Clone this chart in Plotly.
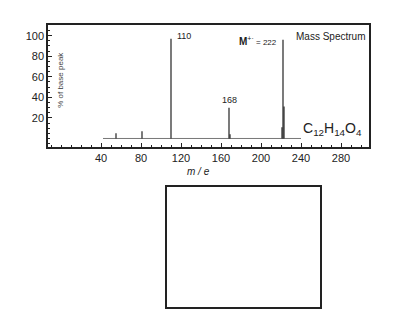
import plotly.graph_objects as go

# Data: m/e peaks and relative intensities (% of base peak)
mz = [55, 81, 110, 168, 169, 221, 222, 223]
intensity = [5, 7, 97, 30, 4, 11, 96, 31]
baseline_range = [42, 240]
x_ticks = [40, 80, 120, 160, 200, 240, 280]
y_ticks = [20, 40, 60, 80, 100]

FONT = "Liberation Sans, Arial, sans-serif"

xs, ys = [], []
for m, v in zip(mz, intensity):
    xs += [m, m, None]
    ys += [0, v, None]

fig = go.Figure()
fig.add_trace(go.Scatter(x=baseline_range, y=[0, 0], mode="lines",
                         line=dict(color="#777777", width=1), hoverinfo="skip",
                         showlegend=False))
fig.add_trace(go.Scatter(x=xs, y=ys, mode="lines",
                         line=dict(color="#222222", width=1.2),
                         showlegend=False))
# empty second panel
fig.add_trace(go.Scatter(x=[None], y=[None], xaxis="x2", yaxis="y2", showlegend=False))

axis_common = dict(showgrid=False, zeroline=False, showline=True, mirror=True,
                   linecolor="#222222", linewidth=1.5)

fig.update_layout(
    width=398, height=321,
    margin=dict(l=0, r=0, t=0, b=0),
    paper_bgcolor="white", plot_bgcolor="white",
    font=dict(family=FONT, color="#222222", size=11),
    xaxis=dict(domain=[48/398, 369/398], range=[-13, 308], tickvals=x_ticks,
               ticks="inside", ticklen=4, tickwidth=1, tickcolor="#222222",
               minor=dict(dtick=10, tick0=0, ticks="inside", ticklen=2, tickcolor="#222222"),
               tickfont=dict(size=11), anchor="y", **axis_common),
    yaxis=dict(domain=[1-147/321, 1-25/321], range=[-8.3, 110.4], tickvals=y_ticks,
               ticks="inside", ticklen=4, tickwidth=1, tickcolor="#222222",
               minor=dict(dtick=5, tick0=0, ticks="inside", ticklen=2, tickcolor="#222222"),
               tickfont=dict(size=11), anchor="x", **axis_common),
    xaxis2=dict(domain=[167/398, 320/398], showticklabels=False, ticks="",
                anchor="y2", range=[0, 1], **axis_common),
    yaxis2=dict(domain=[1-307/321, 1-187/321], showticklabels=False, ticks="",
                anchor="x2", range=[0, 1], **axis_common),
)

ann = [
    dict(x=110, y=100, text="110", xanchor="left", yanchor="middle", xshift=4, font=dict(size=9)),
    dict(x=168, y=31, text="168", xanchor="center", yanchor="bottom", font=dict(size=9)),
    dict(x=218, y=95, text="<b>M</b><sup>+·</sup><span style='font-size:8px'> = 222</span>",
         xanchor="right", yanchor="middle", font=dict(size=10)),
    dict(x=0.995, y=0.97, xref="x domain", yref="y domain", text="Mass Spectrum",
         xanchor="right", yanchor="top", font=dict(size=10)),
    dict(x=0.985, y=0.06, xref="x domain", yref="y domain",
         text="C<sub>12</sub>H<sub>14</sub>O<sub>4</sub>",
         xanchor="right", yanchor="bottom", font=dict(size=14)),
    dict(x=0.02, y=0.55, xref="x domain", yref="y domain", text="% of base peak",
         textangle=-90, xanchor="left", yanchor="middle",
         font=dict(family="Arial", size=8, color="#444444")),
    dict(x=198/398, y=1-172/321, xref="paper", yref="paper", text="<i>m / e</i>",
         xanchor="center", yanchor="middle", showarrow=False, font=dict(size=10)),
]
for a in ann:
    a.setdefault("showarrow", False)
    fig.add_annotation(**a)

fig.write_html("out.html")
